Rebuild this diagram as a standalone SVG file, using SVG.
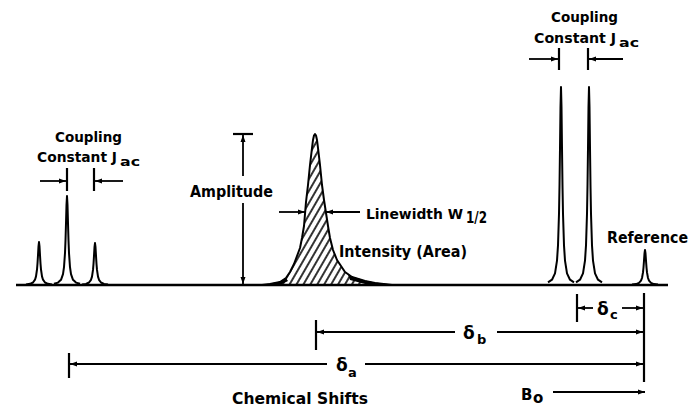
<svg xmlns="http://www.w3.org/2000/svg" width="700" height="418" viewBox="0 0 700 418">
<style>
.t{font-family:"DejaVu Sans","Liberation Sans",sans-serif;font-weight:bold;font-size:15px;fill:#000}
.m{font-size:14px}
.sub{font-size:13px}
.dl{font-size:17px}
.ln{stroke:#000;stroke-width:1.8;fill:none}
.tick{stroke:#000;stroke-width:2.2;fill:none}
.pk{stroke:#000;stroke-width:2;fill:none;stroke-linejoin:round}
.ar{marker-end:url(#ah)}
</style>
<defs>
<marker id="ah" markerUnits="userSpaceOnUse" markerWidth="8" markerHeight="6" refX="7" refY="3" orient="auto">
<path d="M0,0.5 L7,3 L0,5.5 z" fill="#000"/>
</marker>
<pattern id="hatch" width="6" height="6" patternUnits="userSpaceOnUse" patternTransform="rotate(30)">
<line x1="3" y1="0" x2="3" y2="6" stroke="#000" stroke-width="1.6"/>
</pattern>
<clipPath id="bigclip">
<path d="M262,285 L270,284 L280,282 L286,278 L290,272 L294,264 L297,256 L300,248 L302,238 L304,226 L305,214 L306,202 L308,185 L310,165 L312,148 L313,140 L314,135.5 L315,134 L316,135.5 L317,140 L318,148 L320,165 L322,185 L324,200 L326,213 L328,226 L330,238 L333,250 L337,260 L341,266 L345,272 L352,277 L365,281 L375,283 L388,284.5 L392,285 Z"/>
</clipPath>
</defs>

<g id="spectrum">
<line x1="16" y1="285" x2="668" y2="285" stroke="#000" stroke-width="2.6"/>
<g id="peak-a1"><path class="pk" d="M26,284.4 L30,283.8 L33,282.5 L35,279.7 L36,276.4 L37,269.5 L37.5,263.5 L38,255.2 L38.5,246.3 L39,242 L39.5,246.3 L40,255.2 L40.5,263.5 L41,269.5 L42,276.4 L43,279.7 L45,282.5 L48,283.8 L52,284.4"/></g>
<g id="peak-a2"><path class="pk" d="M54,283.8 L58,282.6 L61,279.8 L63,274.1 L64,267.2 L65,253 L65.5,240.5 L66,223.4 L66.5,204.9 L67,196 L67.5,204.9 L68,223.4 L68.5,240.5 L69,253 L70,267.2 L71,274.1 L73,279.8 L76,282.6 L80,283.8"/></g>
<g id="peak-a3"><path class="pk" d="M82,284.5 L86,283.9 L89,282.5 L91,279.8 L92,276.6 L93,269.9 L93.5,264 L94,255.9 L94.5,247.2 L95,243 L95.5,247.2 L96,255.9 L96.5,264 L97,269.9 L98,276.6 L99,279.8 L101,282.5 L104,283.9 L108,284.5"/></g>
<g id="peak-b">
<rect x="255" y="130" width="145" height="156" fill="url(#hatch)" clip-path="url(#bigclip)"/>
<path class="pk" d="M262,285 L270,284 L280,282 L286,278 L290,272 L294,264 L297,256 L300,248 L302,238 L304,226 L305,214 L306,202 L308,185 L310,165 L312,148 L313,140 L314,135.5 L315,134 L316,135.5 L317,140 L318,148 L320,165 L322,185 L324,200 L326,213 L328,226 L330,238 L333,250 L337,260 L341,266 L345,272 L352,277 L365,281 L375,283 L388,284.5 L392,285"/>
<path d="M262,285 L270,283.5 L280,281.5 L286,278 L288,281 L282,284 Z" fill="#000"/>
<path d="M392,285 L388,284 L375,282.5 L365,280.5 L352,276.5 L348,274.5 L350,280 L365,284 Z" fill="#000"/>
</g>
<g id="peak-c1"><path class="pk" d="M548,282.4 L552,279.7 L555,273.4 L557,260.6 L558,245.4 L559,213.7 L559.5,186 L560,148 L560.5,106.8 L561,87 L561.5,106.8 L562,148 L562.5,186 L563,213.7 L564,245.4 L565,260.6 L567,273.4 L570,279.7 L574,282.4"/></g>
<g id="peak-c2"><path class="pk" d="M576,282.4 L580,279.7 L583,273.4 L585,260.6 L586,245.4 L587,213.7 L587.5,186 L588,148 L588.5,106.8 L589,87 L589.5,106.8 L590,148 L590.5,186 L591,213.7 L592,245.4 L593,260.6 L595,273.4 L598,279.7 L602,282.4"/></g>
<g id="peak-ref"><path class="pk" d="M632,284.5 L636,284.1 L639,282.9 L641,280.7 L642,278 L643,272.4 L643.5,267.5 L644,260.8 L644.5,253.5 L645,250 L645.5,253.5 L646,260.8 L646.5,267.5 L647,272.4 L648,278 L649,280.7 L651,282.9 L654,284.1 L658,284.5"/></g>
</g>

<g id="labels">
<g id="coupling-left">
<text class="t m" x="55" y="142" textLength="67" lengthAdjust="spacingAndGlyphs">Coupling</text>
<text class="t m" x="37" y="162" textLength="80" lengthAdjust="spacingAndGlyphs">Constant J</text>
<text class="t sub" x="120" y="166" textLength="20" lengthAdjust="spacingAndGlyphs">ac</text>
</g>
<g id="coupling-right">
<text class="t m" x="551" y="22" textLength="67" lengthAdjust="spacingAndGlyphs">Coupling</text>
<text class="t m" x="534" y="43" textLength="82" lengthAdjust="spacingAndGlyphs">Constant J</text>
<text class="t sub" x="619" y="47" textLength="20" lengthAdjust="spacingAndGlyphs">ac</text>
</g>
<g id="amplitude">
<text class="t" x="190" y="197" textLength="83" lengthAdjust="spacingAndGlyphs">Amplitude</text>
</g>
<g id="linewidth">
<text class="t m" x="366" y="219" textLength="97" lengthAdjust="spacingAndGlyphs">Linewidth W</text>
<text class="t" x="466" y="223" font-size="12" textLength="21" lengthAdjust="spacingAndGlyphs">1/2</text>
</g>
<g id="intensity">
<text class="t" x="339" y="257" textLength="128" lengthAdjust="spacingAndGlyphs">Intensity (Area)</text>
</g>
<g id="reference">
<text class="t" x="607" y="243" textLength="81" lengthAdjust="spacingAndGlyphs">Reference</text>
</g>
<g id="chemical-shifts">
<text class="t" x="232" y="404" textLength="136" lengthAdjust="spacingAndGlyphs">Chemical Shifts</text>
</g>
<g id="delta-a"><text class="t dl" x="336" y="371">δ</text><text class="t sub" x="348" y="377">a</text></g>
<g id="delta-b"><text class="t dl" x="463" y="339">δ</text><text class="t sub" x="477" y="344">b</text></g>
<g id="delta-c"><text class="t dl" x="597" y="315">δ</text><text class="t sub" x="610" y="319">c</text></g>
<g id="b0"><text class="t" x="521" y="400">B</text><text class="t" x="533" y="403" font-size="11">o</text></g>
</g>

<g id="connectors">
<line class="tick" x1="67" y1="168" x2="67" y2="191"/>
<line class="tick" x1="94" y1="168" x2="94" y2="191"/>
<line class="ln ar" x1="40" y1="181" x2="66" y2="181"/>
<line class="ln ar" x1="123" y1="181" x2="95" y2="181"/>
<line class="tick" x1="559" y1="48" x2="559" y2="70"/>
<line class="tick" x1="588" y1="48" x2="588" y2="70"/>
<line class="ln ar" x1="529" y1="59" x2="558" y2="59"/>
<line class="ln ar" x1="623" y1="59" x2="589" y2="59"/>
<line class="tick" x1="233" y1="134" x2="253" y2="134"/>
<line class="ln ar" x1="243" y1="176" x2="243" y2="135"/>
<line class="ln ar" x1="243" y1="203" x2="243" y2="284"/>
<line class="ln ar" x1="279" y1="212" x2="305" y2="212"/>
<line class="ln ar" x1="360" y1="212" x2="326" y2="212"/>
<line class="tick" x1="644" y1="293" x2="644" y2="382"/>
<line class="tick" x1="577" y1="294" x2="577" y2="322"/>
<line class="ln ar" x1="593" y1="308" x2="578" y2="308"/>
<line class="ln ar" x1="622" y1="308" x2="643" y2="308"/>
<line class="tick" x1="316" y1="320" x2="316" y2="350"/>
<line class="ln ar" x1="455" y1="332" x2="317" y2="332"/>
<line class="ln ar" x1="497" y1="332" x2="643" y2="332"/>
<line class="tick" x1="69" y1="353" x2="69" y2="378"/>
<line class="ln ar" x1="327" y1="364" x2="70" y2="364"/>
<line class="ln ar" x1="365" y1="364" x2="643" y2="364"/>
<line class="ln ar" x1="553" y1="392" x2="645" y2="392"/>
</g>
</svg>
